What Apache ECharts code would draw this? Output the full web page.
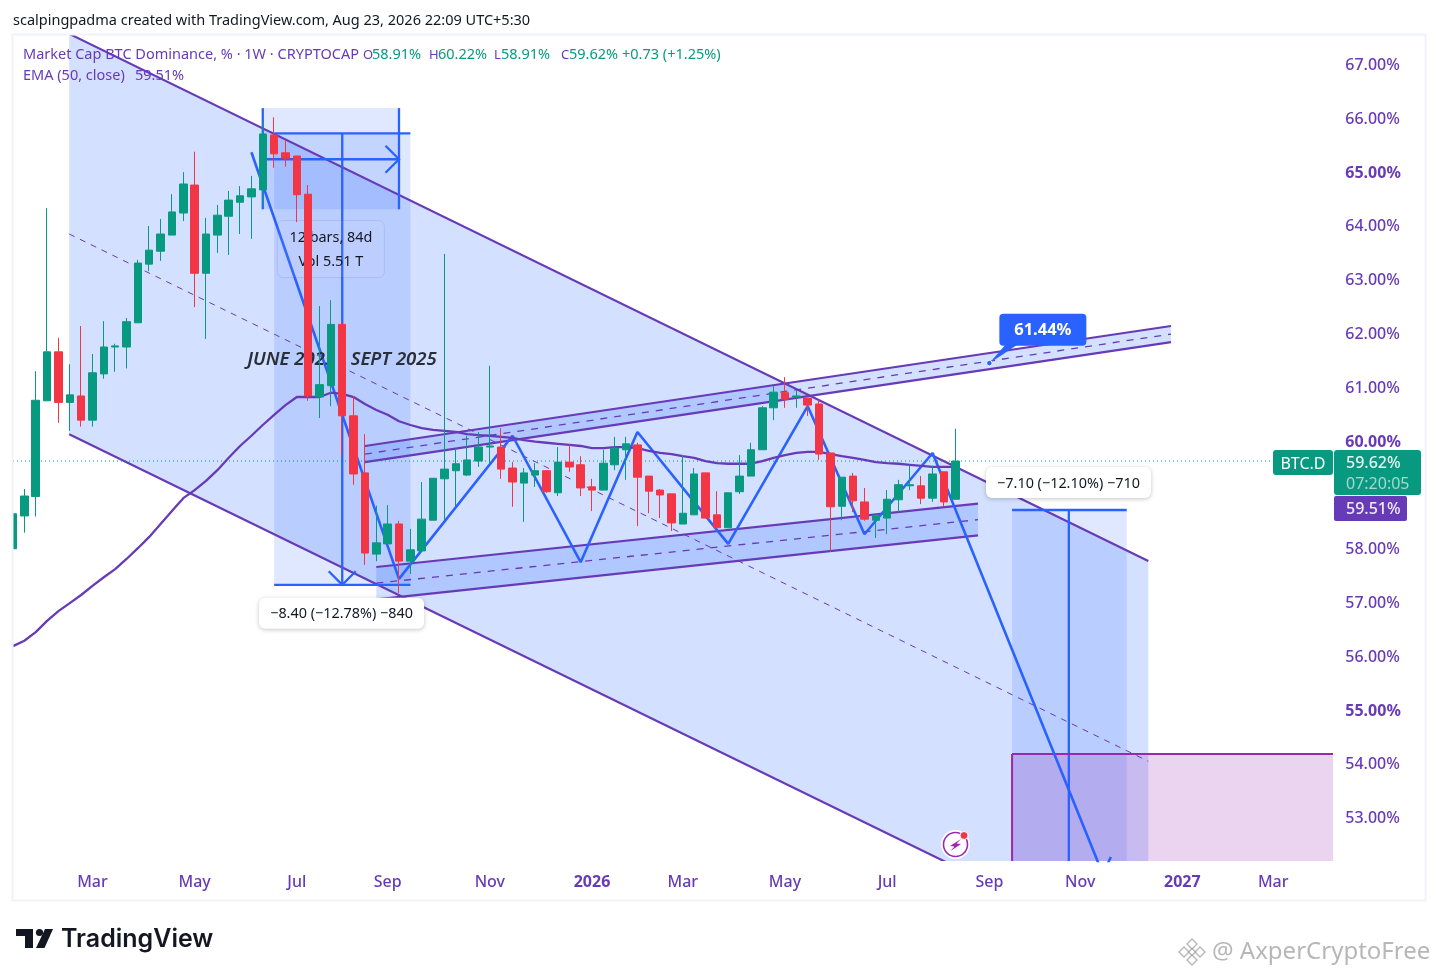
<!DOCTYPE html>
<html><head><meta charset="utf-8">
<style>html,body{margin:0;padding:0;background:#fff}#c{width:1438px;height:976px}</style>
<script src="https://cdn.jsdelivr.net/npm/echarts@6/dist/echarts.min.js"></script>
</head><body><div id="c"></div>
<script>
const FONT = '"Noto Sans"';
const weekLabels = {"2025-03-03":"Mar","2025-05-05":"May","2025-07-07":"Jul","2025-09-01":"Sep","2025-11-03":"Nov","2026-01-05":"2026","2026-03-02":"Mar","2026-05-04":"May","2026-07-06":"Jul","2026-09-07":"Sep","2026-11-02":"Nov","2027-01-04":"2027","2027-03-01":"Mar"};
const priceTicks = [53,54,55,56,57,58,60,61,62,63,64,65,66,67];

const opens = [57.99,58.60,58.96,60.74,61.65,60.71,60.83,60.38,61.24,61.74,
61.74,62.19,63.28,63.52,63.82,64.23,64.75,63.11,63.82,64.17,
64.43,64.53,64.66,65.68,65.35,65.29,64.58,60.81,61.02,62.16,
60.46,59.40,57.89,58.08,58.45,57.76,57.95,58.52,59.29,59.44,
59.36,59.62,59.88,59.88,59.49,59.21,59.36,59.44,59.03,59.60,
59.55,59.14,59.08,59.55,59.83,59.92,59.34,59.08,59.01,58.45,
58.62,59.40,58.62,58.38,59.05,59.34,59.83,60.61,60.89,60.81,
60.79,60.68,59.77,58.78,59.34,58.86,58.52,58.56,58.90,59.16,
59.16,58.93,59.42,58.91];
const closes = [58.64,58.97,60.75,61.65,60.71,60.85,60.38,61.26,61.74,61.76,
62.21,63.30,63.54,63.84,64.25,64.77,63.11,63.84,64.19,64.47,
64.55,64.68,65.70,65.33,65.25,64.57,60.83,61.04,62.16,60.46,
59.38,57.91,58.10,58.45,57.76,57.97,58.54,59.30,59.47,59.57,
59.64,59.88,59.90,59.47,59.23,59.40,59.44,59.05,59.60,59.51,
59.12,59.08,59.58,59.86,59.94,59.32,59.06,58.99,58.47,58.65,
59.38,58.56,58.38,59.03,59.34,59.83,60.61,60.90,60.77,60.83,
60.66,59.75,58.77,59.32,58.88,58.54,58.60,58.91,59.18,59.18,
58.93,59.38,58.86,59.62];
const lows = [57.93,58.29,58.59,60.74,60.33,60.18,60.26,60.26,61.15,61.28,
61.34,62.19,63.15,63.34,63.82,64.08,62.48,61.89,63.49,63.45,
63.84,63.75,64.38,65.07,65.09,64.06,60.74,60.42,60.64,59.73,
59.18,57.69,57.76,58.08,57.17,57.52,57.95,58.52,58.52,58.78,
59.34,59.51,59.57,59.29,58.77,58.49,59.14,59.03,58.97,59.42,
58.97,58.69,59.08,59.45,59.27,58.41,58.65,58.56,58.32,58.45,
58.62,58.56,58.38,58.38,59.01,59.34,59.83,60.38,60.61,60.61,
60.46,59.64,57.93,58.52,58.67,58.51,58.19,58.26,58.67,59.08,
58.82,58.86,58.77,58.91];
const highs = [58.71,59.10,61.29,64.32,61.91,61.42,62.13,61.61,62.22,61.80,
62.28,63.36,63.99,64.12,64.58,64.99,65.37,64.14,64.38,64.64,
64.73,64.92,65.92,66.01,65.59,65.29,64.75,62.50,62.61,62.21,
60.83,60.12,58.79,58.80,58.51,58.36,59.23,59.30,63.47,59.85,
60.09,60.16,61.39,60.23,59.60,59.49,59.58,59.45,59.88,59.94,
59.71,59.29,59.83,60.07,60.07,59.96,59.34,59.10,59.01,59.73,
59.49,59.40,59.06,59.03,59.73,59.96,60.64,61.02,61.18,60.94,
60.79,60.75,59.77,59.32,59.40,59.12,58.64,59.08,59.27,59.55,
59.34,59.53,59.42,60.22];
const ema50 = [56.18,56.28,56.44,56.65,56.83,56.98,57.13,57.30,57.46,57.61,
57.80,58.00,58.21,58.45,58.69,58.93,59.08,59.25,59.45,59.68,
59.90,60.09,60.29,60.48,60.66,60.81,60.81,60.81,60.89,60.87,
60.81,60.68,60.57,60.48,60.36,60.29,60.23,60.20,60.18,60.16,
60.12,60.10,60.09,60.07,60.05,60.01,59.98,59.96,59.94,59.92,
59.90,59.86,59.86,59.88,59.88,59.86,59.81,59.77,59.75,59.71,
59.68,59.62,59.58,59.57,59.57,59.57,59.62,59.68,59.73,59.77,
59.79,59.79,59.75,59.71,59.68,59.64,59.60,59.58,59.57,59.55,
59.53,59.51,59.51,59.51];

// drawings, as [week index, percent]
const zigzag = [[21,65.36],[34,57.43],[44,60.09],[50,57.74],[55,60.16],[63,58.08],[70,60.64],[75,58.26],[81,59.77],[96,51.94],[96.7,52.26]];
const wideTop = [[4.95,67.56],[100,57.76]];
const wideMid = [[4.95,63.84],[100,54.04]];
const wideBottom = [[4.95,60.12],[100,50.33]];
const upperTop = [[31,59.90],[102,62.13]];
const upperMid = [[31,59.75],[102,61.98]];
const upperBottom = [[31,59.60],[102,61.83]];
const lowerTop = [[32,57.65],[85,58.83]];
const lowerMid = [[32,57.35],[85,58.53]];
const lowerBottom = [[32,57.05],[85,58.24]];
const dateRange = {w0:22,w1:34,top:66.18,bottom:64.30,arrow:65.23};
const priceRangeA = {w0:23,w1:35,top:65.71,bottom:57.32,arrowW:29};
const priceRangeB = {w0:88,w1:98.1,top:58.71,bottom:51.61,arrowW:93};
const targetBox = {w0:88,w1:116.27,top:54.175,bottom:50};
const lastClose = 59.62, priceLineEnd = 111;
const calloutPoint = [86,61.44];

const W = 11.353, GRID_L = 13, GRID_T = 34, PLOT_H = 827;
const cats = []; { const d0 = Date.UTC(2025,0,13); for (let i=0;i<118;i++) cats.push(new Date(d0+i*7*864e5).toISOString().slice(0,10)); }
const ohlc = opens.map((o,i)=>[o,closes[i],lows[i],highs[i]]);

const BLUE='#2962ff', PURPLE='#673ab7', GREEN='#089981', RED='#f23645', MAG='#9c27b0';
const fillBlue20='rgba(41,98,255,0.2)', fillBlue15='rgba(41,98,255,0.15)';
const rectPts=(a,b,t,m)=>[[a,t],[b,t],[b,m],[a,m]];
const band=(t,m)=>[t[0],t[1],m[1],m[0]];

const fills = [
 {pts:band(wideTop,wideBottom),fill:fillBlue20},
 {pts:band(upperTop,upperBottom),fill:fillBlue20},
 {pts:band(lowerTop,lowerBottom),fill:fillBlue20},
 {pts:rectPts(dateRange.w0,dateRange.w1,dateRange.top,dateRange.bottom),fill:fillBlue15},
 {pts:rectPts(priceRangeA.w0,priceRangeA.w1,priceRangeA.top,priceRangeA.bottom),fill:fillBlue15},
 {pts:rectPts(priceRangeB.w0,priceRangeB.w1,priceRangeB.top,priceRangeB.bottom),fill:fillBlue15},
 {pts:rectPts(targetBox.w0,targetBox.w1,targetBox.top,targetBox.bottom),fill:'rgba(156,39,176,0.2)'}
];
const solidP={stroke:PURPLE,lineWidth:2.2}, dashP={stroke:PURPLE,lineWidth:1,lineDash:[6,6]}, dashP2={stroke:PURPLE,lineWidth:1.3,lineDash:[7,7]};
const solidB={stroke:BLUE,lineWidth:2.3};
const strokes = [
 {pts:wideTop,s:solidP},{pts:wideMid,s:dashP},{pts:wideBottom,s:solidP},
 {pts:upperTop,s:solidP},{pts:upperMid,s:dashP2},{pts:upperBottom,s:solidP},
 {pts:lowerTop,s:solidP},{pts:lowerMid,s:dashP2},{pts:lowerBottom,s:solidP},
 {pts:[[0,lastClose],[priceLineEnd,lastClose]],s:{stroke:GREEN,lineWidth:1,lineDash:[1,3]}},
 {pts:[[dateRange.w0,dateRange.top],[dateRange.w0,dateRange.bottom]],s:solidB},
 {pts:[[dateRange.w1,dateRange.top],[dateRange.w1,dateRange.bottom]],s:solidB},
 {pts:[[dateRange.w0,dateRange.arrow],[dateRange.w1,dateRange.arrow]],s:solidB,head:1},
 {pts:[[priceRangeA.w0,priceRangeA.top],[priceRangeA.w1,priceRangeA.top]],s:solidB},
 {pts:[[priceRangeA.w0,priceRangeA.bottom],[priceRangeA.w1,priceRangeA.bottom]],s:solidB},
 {pts:[[priceRangeA.arrowW,priceRangeA.top],[priceRangeA.arrowW,priceRangeA.bottom]],s:solidB,head:1},
 {pts:[[priceRangeB.w0,priceRangeB.top],[priceRangeB.w1,priceRangeB.top]],s:solidB},
 {pts:[[priceRangeB.arrowW,priceRangeB.top],[priceRangeB.arrowW,priceRangeB.bottom]],s:solidB},
 {pts:[[targetBox.w0,targetBox.top],[targetBox.w1,targetBox.top]],s:{stroke:MAG,lineWidth:2}},
 {pts:[[targetBox.w0,targetBox.top],[targetBox.w0,targetBox.bottom]],s:{stroke:MAG,lineWidth:2}}
];
const notes = [
 {at:[28.98,61.52],text:'JUNE 2025 - SEPT 2025',font:'italic 600 18.6px '+FONT,fill:'#2a2e39'},
 {at:[28.0,63.56],box:[107,57],text:'12 bars, 84d\nVol 5.51 T',font:'14.4px '+FONT,fill:'#131722',lh:24.5,boxFill:'rgba(255,255,255,0.06)',boxStroke:'rgba(103,58,183,0.14)',shadow:'rgba(103,58,183,0.12)'},
 {at:[28.94,56.79],box:[165,31],text:'\u22128.40 (\u221212.78%) \u2212840',font:'14.4px '+FONT,fill:'#131722',boxFill:'#fff',shadow:'rgba(19,23,34,0.25)'},
 {at:[92.97,59.22],box:[165,31],text:'\u22127.10 (\u221212.10%) \u2212710',font:'14.4px '+FONT,fill:'#131722',boxFill:'#fff',shadow:'rgba(19,23,34,0.25)'}
];

function rFills(p,api){const d=fills[p.dataIndex];return {type:'polygon',shape:{points:d.pts.map(q=>api.coord(q))},style:{fill:d.fill}};}
function rStrokes(p,api){
  const d=strokes[p.dataIndex];const pts=d.pts.map(q=>api.coord(q));
  const children=[{type:'polyline',shape:{points:pts},style:Object.assign({fill:null},d.s)}];
  if(d.head){const a=pts[0],b=pts[1],L=Math.hypot(b[0]-a[0],b[1]-a[1]),ux=(b[0]-a[0])/L,uy=(b[1]-a[1])/L,s=13.5;
    children.push({type:'polyline',shape:{points:[[b[0]-s*ux-s*uy,b[1]-s*uy+s*ux],b,[b[0]-s*ux+s*uy,b[1]-s*uy-s*ux]]},style:Object.assign({fill:null},d.s)});}
  return {type:'group',children};
}
function rNotes(p,api){
  const d=notes[p.dataIndex];const c=api.coord(d.at);const children=[];
  if(d.box)children.push({type:'rect',shape:{x:c[0]-d.box[0]/2,y:c[1]-d.box[1]/2,width:d.box[0],height:d.box[1],r:6},style:{fill:d.boxFill,stroke:d.boxStroke||null,lineWidth:1,shadowBlur:4,shadowColor:d.shadow,shadowOffsetY:1}});
  const lines=d.text.split('\n');
  lines.forEach((t,i)=>children.push({type:'text',x:c[0],y:c[1]+1+(i-(lines.length-1)/2)*(d.lh||0),style:{text:t,font:d.font,fill:d.fill,textAlign:'center',textVerticalAlign:'middle'}}));
  return {type:'group',children};
}
function rCallout(p,api){
  const c=api.coord(calloutPoint);
  const bx=c[0]+10,by=c[1]-49.5,bw=87,bh=32;
  return {type:'group',children:[
    {type:'polygon',shape:{points:[c,[bx+6,by+bh-1],[bx+18,by+bh-1]]},style:{fill:BLUE}},
    {type:'rect',shape:{x:bx,y:by,width:bw,height:bh,r:4},style:{fill:BLUE}},
    {type:'text',x:bx+bw/2,y:by+bh/2+0.5,style:{text:'61.44%',font:'700 16.5px '+FONT,fill:'#fff',textAlign:'center',textVerticalAlign:'middle'}},
    {type:'circle',shape:{cx:c[0],cy:c[1],r:2.8},style:{fill:BLUE,stroke:'#fff',lineWidth:1}}
  ]};
}
const idx=a=>a.map((_,i)=>[i,60]);
const custom=(arr,fn,z)=>({type:'custom',xAxisIndex:1,yAxisIndex:0,clip:true,silent:true,z,renderItem:fn,encode:{x:0,y:1},data:idx(arr),animation:false});

const LEG='14.5px '+FONT;
const txt=(x,y,t,fill,font,align)=>({type:'text',x,y,z:50,silent:true,style:{text:t,fill,font:font||LEG,textAlign:align||'left',textVerticalAlign:'middle'}});
const box=(x,y,w,h,fill,r)=>({type:'rect',z:49,silent:true,shape:{x,y,width:w,height:h,r:r||0},style:{fill}});
const GREY='rgba(165,165,165,0.8)';
const diamond=(cx,cy,r)=>({type:'polygon',z:50,silent:true,shape:{points:[[cx,cy-r],[cx+r,cy],[cx,cy+r],[cx-r,cy]]},style:{fill:null,stroke:GREY,lineWidth:1.4}});
const graphics=[
 {type:'rect',z:48,silent:true,shape:{x:0,y:30,width:12,height:875},style:{fill:'#fff'}},
 {type:'rect',z:49,silent:true,shape:{x:12.5,y:34.5,width:1413,height:866},style:{fill:null,stroke:'#f0f3fa',lineWidth:2}},
 txt(13,20.5,'scalpingpadma created with TradingView.com, Aug 23, 2026 22:09 UTC+5:30','#131722'),
 txt(23,55,'Market Cap BTC Dominance, % \u00b7 1W \u00b7 CRYPTOCAP',PURPLE),
 txt(363,55,'O',PURPLE,'13px '+FONT),txt(372,55,'58.91%',GREEN),
 txt(429,55,'H',PURPLE,'13px '+FONT),txt(438,55,'60.22%',GREEN),
 txt(494,55,'L',PURPLE,'13px '+FONT),txt(501,55,'58.91%',GREEN),
 txt(561,55,'C',PURPLE,'13px '+FONT),txt(569,55,'59.62%',GREEN),
 txt(622,55,'+0.73 (+1.25%)',GREEN),
 txt(23,76,'EMA (50, close)',PURPLE),txt(135,76,'59.51%',PURPLE),
 box(1273,450,60,25,GREEN,3),txt(1303,464,'BTC.D','#fff','16px '+FONT,'center'),
 box(1334,450,87,45,GREEN,3),txt(1346,463.5,'59.62%','#e6f5f2','500 16px '+FONT),txt(1346,484,'07:20:05','rgba(255,255,255,0.62)','16px '+FONT),
 box(1334,496,73,25,PURPLE,2),txt(1346,509.5,'59.51%','#f0ebf8','500 16px '+FONT),
 // alert badge
 {type:'circle',z:45,silent:true,shape:{cx:955.5,cy:844.5,r:14.5},style:{fill:'#fff'}},
 {type:'circle',z:46,silent:true,shape:{cx:955.5,cy:844.5,r:12},style:{fill:'#fff',stroke:MAG,lineWidth:1.6}},
 {type:'polygon',z:46,silent:true,shape:{points:[[961,839],[950,846],[954.5,846.5],[950.5,851],[961,844],[956.5,843.5]]},style:{fill:MAG}},
 {type:'circle',z:47,silent:true,shape:{cx:964,cy:835.5,r:4},style:{fill:RED,stroke:'#fff',lineWidth:1}},
 // logo
 {type:'polygon',z:50,silent:true,shape:{points:[[16,929],[33,929],[33,948],[25,948],[25,936],[16,936]]},style:{fill:'#131722'}},
 {type:'circle',z:50,silent:true,shape:{cx:39.5,cy:932.5,r:3.6},style:{fill:'#131722'}},
 {type:'polygon',z:50,silent:true,shape:{points:[[45,929],[53,929],[44.5,948],[36,948]]},style:{fill:'#131722'}},
 txt(61,939,'TradingView','#131722','600 25px Inter'),
 // watermark
 diamond(1192,944,5),diamond(1192,960,5),diamond(1184,952,5),diamond(1200,952,5),diamond(1192,952,3.5),
 txt(1212,952,'@ AxperCryptoFree',GREY,'24px '+FONT)
];

const option={
 animation:false,backgroundColor:'#fff',
 grid:{left:GRID_L,top:GRID_T,width:117*W,height:PLOT_H,containLabel:false},
 xAxis:[
  {type:'category',data:cats,boundaryGap:false,position:'bottom',axisLine:{show:false},axisTick:{show:false},splitLine:{show:false},
   axisLabel:{interval:0,hideOverlap:false,margin:13,color:PURPLE,fontFamily:FONT,fontSize:16,fontWeight:500,
     formatter:v=>{const t=weekLabels[v]||'';return /^\d/.test(t)?'{y|'+t+'}':t;},rich:{y:{fontWeight:700,color:PURPLE,fontFamily:FONT,fontSize:16}}}},
  {type:'value',min:0,max:117,show:false}
 ],
 yAxis:{type:'value',position:'right',min:52.1859,max:67.5576,axisLine:{show:false},axisTick:{show:false},splitLine:{show:false},
   axisLabel:{customValues:priceTicks,margin:4,padding:[3,0,0,0],color:PURPLE,fontFamily:FONT,fontSize:16,fontWeight:500,
     formatter:v=>{const s=v.toFixed(2)+'%';return v%5===0?'{b|'+s+'}':s;},rich:{b:{fontWeight:700,color:PURPLE,fontFamily:FONT,fontSize:16}}}},
 graphic:graphics,
 series:[
  custom(fills,rFills,1),
  custom(strokes,rStrokes,2),
  {type:'line',name:'Swing path',xAxisIndex:1,yAxisIndex:0,data:zigzag,symbol:'none',silent:true,z:3,clip:true,lineStyle:{color:BLUE,width:2.6}},
  custom(notes,rNotes,4),
  custom([calloutPoint],rCallout,4),
  {type:'line',name:'EMA 50',xAxisIndex:0,yAxisIndex:0,data:ema50,symbol:'none',silent:true,z:5,lineStyle:{color:PURPLE,width:2.3}},
  {type:'candlestick',name:'BTC.D',xAxisIndex:0,yAxisIndex:0,data:ohlc,barWidth:8,z:10,silent:true,
   itemStyle:{color:GREEN,color0:RED,borderColor:GREEN,borderColor0:RED,borderWidth:1}}
 ]
};
const chart=echarts.init(document.getElementById('c'),null,{renderer:'canvas'});
chart.setOption(option);
</script></body></html>
